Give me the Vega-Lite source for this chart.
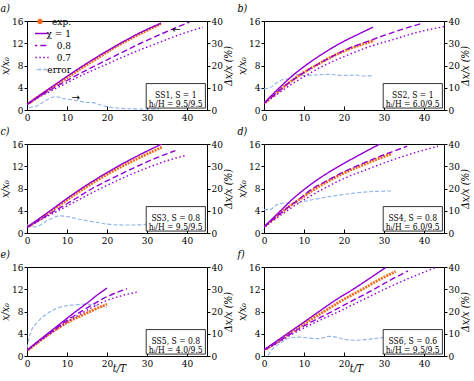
{
"$schema":"https://vega.github.io/schema/vega-lite/v6.json",
"padding":{"left":0,"top":3,"right":0,"bottom":0},
"config":{
 "font":"'DejaVu Serif Condensed', 'Liberation Serif', 'DejaVu Serif', serif",
 "view":{"stroke":"black","strokeWidth":1},
 "axis":{"grid":false,"domain":false,"labelFont":"'DejaVu Serif Condensed', 'Liberation Serif', 'DejaVu Serif', serif","labelFontSize":10,"labelColor":"black","tickColor":"black","titleFont":"'DejaVu Serif Condensed', 'Liberation Serif', 'DejaVu Serif', serif","titleFontSize":10.5,"titleFontWeight":"normal","titleColor":"black","titleFontStyle":"italic","labelPadding":1,"tickSize":3,"titlePadding":1,"labelFlush":false,"labelOverlap":false},
 "axisX":{"tickSize":-4,"labelPadding":6},
 "title":{"font":"'DejaVu Serif Condensed', 'Liberation Serif', 'DejaVu Serif', serif","fontSize":10.5,"fontWeight":"normal","fontStyle":"italic","anchor":"start","frame":"bounds","offset":2,"color":"black"}
},
"data":{"values":[
{"p":"a","s":"exp.","t":0.5,"v":1.2},{"p":"a","s":"exp.","t":3,"v":2.5},{"p":"a","s":"exp.","t":6,"v":3.9},{"p":"a","s":"exp.","t":10,"v":5.8},{"p":"a","s":"exp.","t":14,"v":7.7},{"p":"a","s":"exp.","t":18,"v":9.5},{"p":"a","s":"exp.","t":23,"v":11.7},{"p":"a","s":"exp.","t":28,"v":13.6},{"p":"a","s":"exp.","t":33.5,"v":15.5},
{"p":"a","s":"χ = 1","t":0,"v":1.0},{"p":"a","s":"χ = 1","t":2,"v":2.05},{"p":"a","s":"χ = 1","t":6,"v":4.05},{"p":"a","s":"χ = 1","t":10,"v":6.05},{"p":"a","s":"χ = 1","t":14,"v":7.95},{"p":"a","s":"χ = 1","t":18,"v":9.75},{"p":"a","s":"χ = 1","t":23.4,"v":12.0},{"p":"a","s":"χ = 1","t":28,"v":13.8},{"p":"a","s":"χ = 1","t":33.5,"v":15.6},
{"p":"a","s":"0.8","t":0,"v":1.0},{"p":"a","s":"0.8","t":3,"v":2.4},{"p":"a","s":"0.8","t":6.8,"v":4.0},{"p":"a","s":"0.8","t":12,"v":6.1},{"p":"a","s":"0.8","t":17.2,"v":8.0},{"p":"a","s":"0.8","t":22.5,"v":9.9},{"p":"a","s":"0.8","t":28.4,"v":12.0},{"p":"a","s":"0.8","t":34,"v":13.8},{"p":"a","s":"0.8","t":40.6,"v":15.8},
{"p":"a","s":"0.7","t":0,"v":1.0},{"p":"a","s":"0.7","t":3,"v":2.3},{"p":"a","s":"0.7","t":7.6,"v":4.0},{"p":"a","s":"0.7","t":13,"v":6.0},{"p":"a","s":"0.7","t":19.2,"v":8.0},{"p":"a","s":"0.7","t":25.5,"v":10.0},{"p":"a","s":"0.7","t":32.5,"v":12.0},{"p":"a","s":"0.7","t":38,"v":13.5},{"p":"a","s":"0.7","t":44,"v":14.9},
{"p":"a","s":"error","t":0.5,"v":1.2},{"p":"a","s":"error","t":2,"v":1.5},{"p":"a","s":"error","t":4,"v":3.5},{"p":"a","s":"error","t":6,"v":5.5},{"p":"a","s":"error","t":7.2,"v":6.0},{"p":"a","s":"error","t":9,"v":5.2},{"p":"a","s":"error","t":11,"v":4.6},{"p":"a","s":"error","t":13,"v":4.0},{"p":"a","s":"error","t":15,"v":3.4},{"p":"a","s":"error","t":16.5,"v":3.3},{"p":"a","s":"error","t":18,"v":2.5},{"p":"a","s":"error","t":20,"v":1.5},{"p":"a","s":"error","t":23,"v":0.8},{"p":"a","s":"error","t":27,"v":0.5},{"p":"a","s":"error","t":33,"v":0.4},
{"p":"b","s":"exp.","t":0.3,"v":1.3},{"p":"b","s":"exp.","t":2,"v":2.4},{"p":"b","s":"exp.","t":5,"v":4.2},{"p":"b","s":"exp.","t":9,"v":6.3},{"p":"b","s":"exp.","t":12.9,"v":8.0},{"p":"b","s":"exp.","t":17,"v":9.6},{"p":"b","s":"exp.","t":21,"v":10.9},{"p":"b","s":"exp.","t":25.4,"v":12.0},{"p":"b","s":"exp.","t":27.5,"v":12.5},
{"p":"b","s":"χ = 1","t":0,"v":1.2},{"p":"b","s":"χ = 1","t":2,"v":2.7},{"p":"b","s":"χ = 1","t":4,"v":4.1},{"p":"b","s":"χ = 1","t":7,"v":6.1},{"p":"b","s":"χ = 1","t":10,"v":7.8},{"p":"b","s":"χ = 1","t":14,"v":9.8},{"p":"b","s":"χ = 1","t":19.6,"v":12.2},{"p":"b","s":"χ = 1","t":23.5,"v":13.6},{"p":"b","s":"χ = 1","t":27.3,"v":14.9},
{"p":"b","s":"0.8","t":0,"v":1.2},{"p":"b","s":"0.8","t":2,"v":2.4},{"p":"b","s":"0.8","t":5,"v":4.2},{"p":"b","s":"0.8","t":9,"v":6.3},{"p":"b","s":"0.8","t":12.9,"v":8.0},{"p":"b","s":"0.8","t":17,"v":9.6},{"p":"b","s":"0.8","t":21,"v":11.0},{"p":"b","s":"0.8","t":25.4,"v":12.2},{"p":"b","s":"0.8","t":30,"v":13.4},{"p":"b","s":"0.8","t":35,"v":14.6},{"p":"b","s":"0.8","t":39.6,"v":15.6},
{"p":"b","s":"0.7","t":0,"v":1.2},{"p":"b","s":"0.7","t":3,"v":2.7},{"p":"b","s":"0.7","t":6,"v":4.2},{"p":"b","s":"0.7","t":10,"v":6.0},{"p":"b","s":"0.7","t":15,"v":8.0},{"p":"b","s":"0.7","t":20,"v":9.6},{"p":"b","s":"0.7","t":26,"v":11.3},{"p":"b","s":"0.7","t":32,"v":12.6},{"p":"b","s":"0.7","t":38,"v":13.9},{"p":"b","s":"0.7","t":45,"v":15.0},
{"p":"b","s":"error","t":0,"v":9.5},{"p":"b","s":"error","t":1,"v":9.8},{"p":"b","s":"error","t":2,"v":10.5},{"p":"b","s":"error","t":3,"v":12},{"p":"b","s":"error","t":4,"v":13},{"p":"b","s":"error","t":5,"v":14},{"p":"b","s":"error","t":6,"v":13.8},{"p":"b","s":"error","t":7,"v":15},{"p":"b","s":"error","t":8,"v":16},{"p":"b","s":"error","t":10,"v":15.5},{"p":"b","s":"error","t":13,"v":15.8},{"p":"b","s":"error","t":16,"v":16},{"p":"b","s":"error","t":20,"v":15.5},{"p":"b","s":"error","t":23,"v":15.7},{"p":"b","s":"error","t":25,"v":15.3},{"p":"b","s":"error","t":27.3,"v":15.5},
{"p":"c","s":"exp.","t":0.5,"v":1.2},{"p":"c","s":"exp.","t":3,"v":2.4},{"p":"c","s":"exp.","t":6,"v":3.9},{"p":"c","s":"exp.","t":9.5,"v":5.7},{"p":"c","s":"exp.","t":13.4,"v":7.6},{"p":"c","s":"exp.","t":18,"v":9.7},{"p":"c","s":"exp.","t":23,"v":11.7},{"p":"c","s":"exp.","t":28,"v":13.5},{"p":"c","s":"exp.","t":33.7,"v":15.4},
{"p":"c","s":"χ = 1","t":0,"v":1.0},{"p":"c","s":"χ = 1","t":3,"v":2.55},{"p":"c","s":"χ = 1","t":6,"v":4.1},{"p":"c","s":"χ = 1","t":9.5,"v":5.95},{"p":"c","s":"χ = 1","t":13.4,"v":7.9},{"p":"c","s":"χ = 1","t":18,"v":10.0},{"p":"c","s":"χ = 1","t":23,"v":12.1},{"p":"c","s":"χ = 1","t":28,"v":14.0},{"p":"c","s":"χ = 1","t":33.7,"v":16.0},
{"p":"c","s":"0.8","t":0,"v":1.0},{"p":"c","s":"0.8","t":3,"v":2.3},{"p":"c","s":"0.8","t":7,"v":4.0},{"p":"c","s":"0.8","t":11.5,"v":5.9},{"p":"c","s":"0.8","t":16.3,"v":8.0},{"p":"c","s":"0.8","t":21.5,"v":9.9},{"p":"c","s":"0.8","t":27,"v":11.8},{"p":"c","s":"0.8","t":32,"v":13.4},{"p":"c","s":"0.8","t":37.1,"v":14.8},
{"p":"c","s":"0.7","t":0,"v":1.0},{"p":"c","s":"0.7","t":3,"v":2.2},{"p":"c","s":"0.7","t":7.5,"v":3.9},{"p":"c","s":"0.7","t":13,"v":6.0},{"p":"c","s":"0.7","t":18.4,"v":8.0},{"p":"c","s":"0.7","t":24,"v":9.9},{"p":"c","s":"0.7","t":30,"v":11.7},{"p":"c","s":"0.7","t":35,"v":13.0},{"p":"c","s":"0.7","t":40,"v":14.0},
{"p":"c","s":"error","t":0,"v":3.7},{"p":"c","s":"error","t":1,"v":3.0},{"p":"c","s":"error","t":2,"v":2.8},{"p":"c","s":"error","t":3,"v":3.3},{"p":"c","s":"error","t":5,"v":5.5},{"p":"c","s":"error","t":7,"v":7.2},{"p":"c","s":"error","t":8.5,"v":7.7},{"p":"c","s":"error","t":10,"v":7.4},{"p":"c","s":"error","t":12,"v":6.6},{"p":"c","s":"error","t":15,"v":5.5},{"p":"c","s":"error","t":18,"v":4.6},{"p":"c","s":"error","t":20,"v":4.0},{"p":"c","s":"error","t":22,"v":3.7},{"p":"c","s":"error","t":26,"v":3.6},{"p":"c","s":"error","t":30,"v":3.7},{"p":"c","s":"error","t":34,"v":3.7},
{"p":"d","s":"exp.","t":0.3,"v":1.2},{"p":"d","s":"exp.","t":3,"v":2.9},{"p":"d","s":"exp.","t":6,"v":4.6},{"p":"d","s":"exp.","t":9,"v":6.1},{"p":"d","s":"exp.","t":12,"v":7.6},{"p":"d","s":"exp.","t":16,"v":9.3},{"p":"d","s":"exp.","t":20,"v":10.8},{"p":"d","s":"exp.","t":24,"v":12.0},{"p":"d","s":"exp.","t":28,"v":13.2},{"p":"d","s":"exp.","t":32,"v":14.25},
{"p":"d","s":"χ = 1","t":0,"v":1.1},{"p":"d","s":"χ = 1","t":2,"v":2.5},{"p":"d","s":"χ = 1","t":4,"v":3.9},{"p":"d","s":"χ = 1","t":7,"v":6.0},{"p":"d","s":"χ = 1","t":10,"v":7.8},{"p":"d","s":"χ = 1","t":14,"v":9.9},{"p":"d","s":"χ = 1","t":18.75,"v":12.0},{"p":"d","s":"χ = 1","t":24,"v":14.1},{"p":"d","s":"χ = 1","t":29,"v":16.0},
{"p":"d","s":"0.8","t":0,"v":1.1},{"p":"d","s":"0.8","t":3,"v":2.9},{"p":"d","s":"0.8","t":6,"v":4.6},{"p":"d","s":"0.8","t":9,"v":6.2},{"p":"d","s":"0.8","t":12,"v":7.9},{"p":"d","s":"0.8","t":16,"v":9.5},{"p":"d","s":"0.8","t":20,"v":11.0},{"p":"d","s":"0.8","t":24,"v":12.3},{"p":"d","s":"0.8","t":28,"v":13.5},{"p":"d","s":"0.8","t":32,"v":14.6},{"p":"d","s":"0.8","t":35.8,"v":15.6},
{"p":"d","s":"0.7","t":0,"v":1.1},{"p":"d","s":"0.7","t":3,"v":2.6},{"p":"d","s":"0.7","t":7,"v":4.6},{"p":"d","s":"0.7","t":11,"v":6.4},{"p":"d","s":"0.7","t":15,"v":8.0},{"p":"d","s":"0.7","t":20,"v":9.8},{"p":"d","s":"0.7","t":26,"v":11.5},{"p":"d","s":"0.7","t":32,"v":13.1},{"p":"d","s":"0.7","t":38,"v":14.5},{"p":"d","s":"0.7","t":43.5,"v":15.6},
{"p":"d","s":"error","t":0,"v":10.5},{"p":"d","s":"error","t":1.5,"v":10.5},{"p":"d","s":"error","t":3,"v":12.5},{"p":"d","s":"error","t":5,"v":13.5},{"p":"d","s":"error","t":7,"v":13.3},{"p":"d","s":"error","t":10,"v":14.2},{"p":"d","s":"error","t":14,"v":15.6},{"p":"d","s":"error","t":18,"v":16.8},{"p":"d","s":"error","t":22,"v":17.8},{"p":"d","s":"error","t":26,"v":18.5},{"p":"d","s":"error","t":32,"v":18.9},
{"p":"e","s":"exp.","t":0.3,"v":1.1},{"p":"e","s":"exp.","t":3,"v":2.6},{"p":"e","s":"exp.","t":6,"v":4.2},{"p":"e","s":"exp.","t":10,"v":6.0},{"p":"e","s":"exp.","t":14,"v":7.4},{"p":"e","s":"exp.","t":17,"v":8.4},{"p":"e","s":"exp.","t":20,"v":9.3},
{"p":"e","s":"χ = 1","t":0,"v":1.0},{"p":"e","s":"χ = 1","t":3,"v":2.8},{"p":"e","s":"χ = 1","t":6,"v":4.5},{"p":"e","s":"χ = 1","t":9,"v":6.2},{"p":"e","s":"χ = 1","t":12,"v":7.9},{"p":"e","s":"χ = 1","t":15,"v":9.5},{"p":"e","s":"χ = 1","t":18,"v":11.2},{"p":"e","s":"χ = 1","t":20,"v":12.2},
{"p":"e","s":"0.8","t":0,"v":1.0},{"p":"e","s":"0.8","t":3,"v":2.7},{"p":"e","s":"0.8","t":6,"v":4.3},{"p":"e","s":"0.8","t":10,"v":6.4},{"p":"e","s":"0.8","t":14,"v":8.2},{"p":"e","s":"0.8","t":19,"v":10.3},{"p":"e","s":"0.8","t":22,"v":11.3},{"p":"e","s":"0.8","t":25,"v":12.1},
{"p":"e","s":"0.7","t":0,"v":1.0},{"p":"e","s":"0.7","t":3,"v":2.6},{"p":"e","s":"0.7","t":6,"v":4.1},{"p":"e","s":"0.7","t":10,"v":6.1},{"p":"e","s":"0.7","t":14,"v":7.8},{"p":"e","s":"0.7","t":19,"v":9.7},{"p":"e","s":"0.7","t":23,"v":10.7},{"p":"e","s":"0.7","t":27.5,"v":11.5},
{"p":"e","s":"error","t":0,"v":3.5},{"p":"e","s":"error","t":0.5,"v":8},{"p":"e","s":"error","t":1,"v":11},{"p":"e","s":"error","t":2.5,"v":15},{"p":"e","s":"error","t":5,"v":19},{"p":"e","s":"error","t":8,"v":21.8},{"p":"e","s":"error","t":12,"v":23},{"p":"e","s":"error","t":15,"v":23.3},{"p":"e","s":"error","t":18,"v":22.5},{"p":"e","s":"error","t":20,"v":21.8},
{"p":"f","s":"exp.","t":0.5,"v":1.2},{"p":"f","s":"exp.","t":3,"v":2.4},{"p":"f","s":"exp.","t":6,"v":3.9},{"p":"f","s":"exp.","t":10,"v":5.8},{"p":"f","s":"exp.","t":15,"v":8.0},{"p":"f","s":"exp.","t":20,"v":10.2},{"p":"f","s":"exp.","t":24.6,"v":12.0},{"p":"f","s":"exp.","t":29,"v":13.8},{"p":"f","s":"exp.","t":32.9,"v":15.2},
{"p":"f","s":"χ = 1","t":0,"v":1.1},{"p":"f","s":"χ = 1","t":3,"v":2.6},{"p":"f","s":"χ = 1","t":5.8,"v":4.0},{"p":"f","s":"χ = 1","t":10,"v":6.1},{"p":"f","s":"χ = 1","t":13.75,"v":8.0},{"p":"f","s":"χ = 1","t":18,"v":10.1},{"p":"f","s":"χ = 1","t":22.5,"v":12.1},{"p":"f","s":"χ = 1","t":26.5,"v":14.0},{"p":"f","s":"χ = 1","t":30.4,"v":15.9},
{"p":"f","s":"0.8","t":0,"v":1.1},{"p":"f","s":"0.8","t":3,"v":2.3},{"p":"f","s":"0.8","t":6,"v":3.7},{"p":"f","s":"0.8","t":11,"v":5.8},{"p":"f","s":"0.8","t":17,"v":8.0},{"p":"f","s":"0.8","t":22,"v":9.9},{"p":"f","s":"0.8","t":27,"v":11.8},{"p":"f","s":"0.8","t":32,"v":13.8},{"p":"f","s":"0.8","t":36,"v":15.3},
{"p":"f","s":"0.7","t":0,"v":1.1},{"p":"f","s":"0.7","t":3,"v":2.2},{"p":"f","s":"0.7","t":7,"v":3.9},{"p":"f","s":"0.7","t":13,"v":6.1},{"p":"f","s":"0.7","t":18.75,"v":8.0},{"p":"f","s":"0.7","t":25,"v":10.2},{"p":"f","s":"0.7","t":31,"v":12.3},{"p":"f","s":"0.7","t":37,"v":14.2},{"p":"f","s":"0.7","t":42.9,"v":15.9},
{"p":"f","s":"error","t":1,"v":0.3},{"p":"f","s":"error","t":2,"v":2.9},{"p":"f","s":"error","t":3.5,"v":5},{"p":"f","s":"error","t":5.4,"v":7.4},{"p":"f","s":"error","t":7,"v":8.3},{"p":"f","s":"error","t":8.75,"v":8.5},{"p":"f","s":"error","t":11,"v":8.1},{"p":"f","s":"error","t":13.75,"v":7.8},{"p":"f","s":"error","t":16.25,"v":8.8},{"p":"f","s":"error","t":18,"v":8.5},{"p":"f","s":"error","t":20.4,"v":7.4},{"p":"f","s":"error","t":23,"v":7.1},{"p":"f","s":"error","t":26,"v":7.5},{"p":"f","s":"error","t":30.4,"v":8.4},{"p":"f","s":"error","t":33,"v":8.8},
{"p":"a","note":"SS1, S = 1\nhᵢ/H = 9.5/9.5"},
{"p":"b","note":"SS2, S = 1\nhᵢ/H = 6.0/9.5"},
{"p":"c","note":"SS3, S = 0.8\nhᵢ/H = 9.5/9.5"},
{"p":"d","note":"SS4, S = 0.8\nhᵢ/H = 6.0/9.5"},
{"p":"e","note":"SS5, S = 0.8\nhᵢ/H = 4.0/9.5"},
{"p":"f","note":"SS6, S = 0.6\nhᵢ/H = 9.5/9.5"}
]},
"spacing":3,
"resolve":{"legend":{"color":"independent","strokeDash":"independent"}},
"vconcat":[
{"hconcat":[
{"width":180,"height":89,"title":{"text":"a)"},
 "layer":[
  {"transform":[{"filter":"datum.p==='a' && datum.s==='error'"}],
   "mark":{"type":"line","interpolate":"monotone","strokeWidth":1.1,"clip":true},
   "encoding":{
    "x":{"field":"t","type":"quantitative","scale":{"domain":[0,45],"nice":false},"axis":{"values":[0,10,20,30,40],"title":null}},
    "y":{"field":"v","type":"quantitative","scale":{"domain":[0,40],"nice":false},"axis":{"orient":"right","values":[0,10,20,30,40],"title":"Δx/x (%)","titleAngle":270,"titleBaseline":"top","titlePadding":1}},
    "color":{"field":"s","type":"nominal","scale":{"domain":["exp.","χ = 1","0.8","0.7","error"],"range":["#F26B1D","#9400D3","#9400D3","#9400D3","#8FB3EC"]},
      "legend":{"orient":"none","legendX":8,"legendY":-4,"title":null,"labelFontSize":10,"labelColor":"black","labelAlign":"right","labelOffset":26,"symbolSize":300,"symbolStrokeWidth":1.5,"symbolType":"stroke","clipHeight":9,"rowPadding":1,"padding":0,
        "encode":{"symbols":{"update":{"shape":{"signal":"datum.label === 'exp.' ? 'circle' : 'stroke'"},"size":{"signal":"datum.label === 'exp.' ? 28 : 300"},"fill":{"signal":"datum.label === 'exp.' ? '#F26B1D' : 'transparent'"},"strokeWidth":{"signal":"datum.label === 'exp.' ? 0 : 1.5"}}}}}},
    "strokeDash":{"field":"s","type":"nominal","scale":{"domain":["exp.","χ = 1","0.8","0.7","error"],"range":[[2,1],[1,0],[6,3],[1.5,2.5],[4,2]]},
      "legend":{"orient":"none","legendX":8,"legendY":-4,"title":null,"labelFontSize":10,"labelColor":"black","labelAlign":"right","labelOffset":26,"symbolSize":300,"symbolStrokeWidth":1.5,"symbolType":"stroke","clipHeight":9,"rowPadding":1,"padding":0}}
   }},
  {"layer":[
    {"transform":[{"filter":"datum.p==='a' && datum.s==='exp.'"}],
     "mark":{"type":"line","interpolate":"monotone","strokeWidth":2.8,"clip":true},
     "encoding":{"x":{"field":"t","type":"quantitative"},"y":{"field":"v","type":"quantitative","scale":{"domain":[0,16],"nice":false},"axis":{"orient":"left","values":[0,4,8,12,16],"title":"x/x₀"}},
      "color":{"field":"s","type":"nominal"},"strokeDash":{"field":"s","type":"nominal"}}},
    {"transform":[{"filter":"datum.p==='a' && datum.s && datum.s!=='exp.' && datum.s!=='error'"}],
     "mark":{"type":"line","interpolate":"monotone","strokeWidth":1.4,"clip":true},
     "encoding":{"x":{"field":"t","type":"quantitative"},"y":{"field":"v","type":"quantitative","axis":{"orient":"left","values":[0,4,8,12,16],"title":"x/x₀"}},
      "color":{"field":"s","type":"nominal"},"strokeDash":{"field":"s","type":"nominal"}}}
  ]},
  {"transform":[{"filter":"datum.p==='a' && datum.note"}],
   "layer":[
    {"mark":{"type":"rect","fill":"white","stroke":"black","strokeWidth":0.8},
     "encoding":{"x":{"datum":29.8},"x2":{"datum":44.6},"y":{"datum":0.35,"scale":{"domain":[0,16],"nice":false},"axis":null},"y2":{"datum":4.75}}},
    {"mark":{"type":"text","lineBreak":"\n","fontSize":8.5,"lineHeight":9.5,"align":"center","baseline":"middle"},
     "encoding":{"x":{"datum":37.2},"y":{"datum":2.7,"axis":null},"text":{"field":"note"}}},
    {"mark":{"type":"text","text":"←","fontSize":10,"font":"DejaVu Sans"},
     "encoding":{"x":{"datum":37.3},"y":{"datum":14.3,"axis":null}}},
    {"mark":{"type":"text","text":"→","fontSize":10,"font":"DejaVu Sans"},
     "encoding":{"x":{"datum":12.2},"y":{"datum":2.2,"axis":null}}}
   ]}
 ],
 "resolve":{"scale":{"y":"independent"}}},
{"width":180,"height":89,"title":{"text":"b)"},
 "layer":[
  {"transform":[{"filter":"datum.p==='b' && datum.s==='error'"}],
   "mark":{"type":"line","interpolate":"monotone","strokeWidth":1.1,"clip":true},
   "encoding":{
    "x":{"field":"t","type":"quantitative","scale":{"domain":[0,45],"nice":false},"axis":{"values":[0,10,20,30,40],"title":null}},
    "y":{"field":"v","type":"quantitative","scale":{"domain":[0,40],"nice":false},"axis":{"orient":"right","values":[0,10,20,30,40],"title":"Δx/x (%)","titleAngle":270,"titleBaseline":"top","titlePadding":1}},
    "color":{"field":"s","type":"nominal","scale":{"domain":["exp.","χ = 1","0.8","0.7","error"],"range":["#F26B1D","#9400D3","#9400D3","#9400D3","#8FB3EC"]},"legend":null},
    "strokeDash":{"field":"s","type":"nominal","scale":{"domain":["exp.","χ = 1","0.8","0.7","error"],"range":[[2,1],[1,0],[6,3],[1.5,2.5],[4,2]]},"legend":null}
   }},
  {"layer":[
    {"transform":[{"filter":"datum.p==='b' && datum.s==='exp.'"}],
     "mark":{"type":"line","interpolate":"monotone","strokeWidth":2.8,"clip":true},
     "encoding":{"x":{"field":"t","type":"quantitative"},"y":{"field":"v","type":"quantitative","scale":{"domain":[0,16],"nice":false},"axis":{"orient":"left","values":[0,4,8,12,16],"title":"x/x₀"}},
      "color":{"field":"s","type":"nominal","legend":null},"strokeDash":{"field":"s","type":"nominal","legend":null}}},
    {"transform":[{"filter":"datum.p==='b' && datum.s && datum.s!=='exp.' && datum.s!=='error'"}],
     "mark":{"type":"line","interpolate":"monotone","strokeWidth":1.4,"clip":true},
     "encoding":{"x":{"field":"t","type":"quantitative"},"y":{"field":"v","type":"quantitative","axis":{"orient":"left","values":[0,4,8,12,16],"title":"x/x₀"}},
      "color":{"field":"s","type":"nominal","legend":null},"strokeDash":{"field":"s","type":"nominal","legend":null}}}
  ]},
  {"transform":[{"filter":"datum.p==='b' && datum.note"}],
   "layer":[
    {"mark":{"type":"rect","fill":"white","stroke":"black","strokeWidth":0.8},
     "encoding":{"x":{"datum":29.8},"x2":{"datum":44.6},"y":{"datum":0.35,"scale":{"domain":[0,16],"nice":false},"axis":null},"y2":{"datum":4.75}}},
    {"mark":{"type":"text","lineBreak":"\n","fontSize":8.5,"lineHeight":9.5,"align":"center","baseline":"middle"},
     "encoding":{"x":{"datum":37.2},"y":{"datum":2.7,"axis":null},"text":{"field":"note"}}}
   ]}
 ],
 "resolve":{"scale":{"y":"independent"}}}
],"spacing":2,"resolve":{"legend":{"color":"independent","strokeDash":"independent"}}},
{"hconcat":[
{"width":180,"height":89,"title":{"text":"c)"},
 "layer":[
  {"transform":[{"filter":"datum.p==='c' && datum.s==='error'"}],
   "mark":{"type":"line","interpolate":"monotone","strokeWidth":1.1,"clip":true},
   "encoding":{
    "x":{"field":"t","type":"quantitative","scale":{"domain":[0,45],"nice":false},"axis":{"values":[0,10,20,30,40],"title":null}},
    "y":{"field":"v","type":"quantitative","scale":{"domain":[0,40],"nice":false},"axis":{"orient":"right","values":[0,10,20,30,40],"title":"Δx/x (%)","titleAngle":270,"titleBaseline":"top","titlePadding":1}},
    "color":{"field":"s","type":"nominal","scale":{"domain":["exp.","χ = 1","0.8","0.7","error"],"range":["#F26B1D","#9400D3","#9400D3","#9400D3","#8FB3EC"]},"legend":null},
    "strokeDash":{"field":"s","type":"nominal","scale":{"domain":["exp.","χ = 1","0.8","0.7","error"],"range":[[2,1],[1,0],[6,3],[1.5,2.5],[4,2]]},"legend":null}
   }},
  {"layer":[
    {"transform":[{"filter":"datum.p==='c' && datum.s==='exp.'"}],
     "mark":{"type":"line","interpolate":"monotone","strokeWidth":2.8,"clip":true},
     "encoding":{"x":{"field":"t","type":"quantitative"},"y":{"field":"v","type":"quantitative","scale":{"domain":[0,16],"nice":false},"axis":{"orient":"left","values":[0,4,8,12,16],"title":"x/x₀"}},
      "color":{"field":"s","type":"nominal","legend":null},"strokeDash":{"field":"s","type":"nominal","legend":null}}},
    {"transform":[{"filter":"datum.p==='c' && datum.s && datum.s!=='exp.' && datum.s!=='error'"}],
     "mark":{"type":"line","interpolate":"monotone","strokeWidth":1.4,"clip":true},
     "encoding":{"x":{"field":"t","type":"quantitative"},"y":{"field":"v","type":"quantitative","axis":{"orient":"left","values":[0,4,8,12,16],"title":"x/x₀"}},
      "color":{"field":"s","type":"nominal","legend":null},"strokeDash":{"field":"s","type":"nominal","legend":null}}}
  ]},
  {"transform":[{"filter":"datum.p==='c' && datum.note"}],
   "layer":[
    {"mark":{"type":"rect","fill":"white","stroke":"black","strokeWidth":0.8},
     "encoding":{"x":{"datum":29.8},"x2":{"datum":44.6},"y":{"datum":0.35,"scale":{"domain":[0,16],"nice":false},"axis":null},"y2":{"datum":4.75}}},
    {"mark":{"type":"text","lineBreak":"\n","fontSize":8.5,"lineHeight":9.5,"align":"center","baseline":"middle"},
     "encoding":{"x":{"datum":37.2},"y":{"datum":2.7,"axis":null},"text":{"field":"note"}}}
   ]}
 ],
 "resolve":{"scale":{"y":"independent"}}},
{"width":180,"height":89,"title":{"text":"d)"},
 "layer":[
  {"transform":[{"filter":"datum.p==='d' && datum.s==='error'"}],
   "mark":{"type":"line","interpolate":"monotone","strokeWidth":1.1,"clip":true},
   "encoding":{
    "x":{"field":"t","type":"quantitative","scale":{"domain":[0,45],"nice":false},"axis":{"values":[0,10,20,30,40],"title":null}},
    "y":{"field":"v","type":"quantitative","scale":{"domain":[0,40],"nice":false},"axis":{"orient":"right","values":[0,10,20,30,40],"title":"Δx/x (%)","titleAngle":270,"titleBaseline":"top","titlePadding":1}},
    "color":{"field":"s","type":"nominal","scale":{"domain":["exp.","χ = 1","0.8","0.7","error"],"range":["#F26B1D","#9400D3","#9400D3","#9400D3","#8FB3EC"]},"legend":null},
    "strokeDash":{"field":"s","type":"nominal","scale":{"domain":["exp.","χ = 1","0.8","0.7","error"],"range":[[2,1],[1,0],[6,3],[1.5,2.5],[4,2]]},"legend":null}
   }},
  {"layer":[
    {"transform":[{"filter":"datum.p==='d' && datum.s==='exp.'"}],
     "mark":{"type":"line","interpolate":"monotone","strokeWidth":2.8,"clip":true},
     "encoding":{"x":{"field":"t","type":"quantitative"},"y":{"field":"v","type":"quantitative","scale":{"domain":[0,16],"nice":false},"axis":{"orient":"left","values":[0,4,8,12,16],"title":"x/x₀"}},
      "color":{"field":"s","type":"nominal","legend":null},"strokeDash":{"field":"s","type":"nominal","legend":null}}},
    {"transform":[{"filter":"datum.p==='d' && datum.s && datum.s!=='exp.' && datum.s!=='error'"}],
     "mark":{"type":"line","interpolate":"monotone","strokeWidth":1.4,"clip":true},
     "encoding":{"x":{"field":"t","type":"quantitative"},"y":{"field":"v","type":"quantitative","axis":{"orient":"left","values":[0,4,8,12,16],"title":"x/x₀"}},
      "color":{"field":"s","type":"nominal","legend":null},"strokeDash":{"field":"s","type":"nominal","legend":null}}}
  ]},
  {"transform":[{"filter":"datum.p==='d' && datum.note"}],
   "layer":[
    {"mark":{"type":"rect","fill":"white","stroke":"black","strokeWidth":0.8},
     "encoding":{"x":{"datum":29.8},"x2":{"datum":44.6},"y":{"datum":0.35,"scale":{"domain":[0,16],"nice":false},"axis":null},"y2":{"datum":4.75}}},
    {"mark":{"type":"text","lineBreak":"\n","fontSize":8.5,"lineHeight":9.5,"align":"center","baseline":"middle"},
     "encoding":{"x":{"datum":37.2},"y":{"datum":2.7,"axis":null},"text":{"field":"note"}}}
   ]}
 ],
 "resolve":{"scale":{"y":"independent"}}}
],"spacing":2,"resolve":{"legend":{"color":"independent","strokeDash":"independent"}}},
{"hconcat":[
{"width":180,"height":89,"title":{"text":"e)"},
 "layer":[
  {"transform":[{"filter":"datum.p==='e' && datum.s==='error'"}],
   "mark":{"type":"line","interpolate":"monotone","strokeWidth":1.1,"clip":true},
   "encoding":{
    "x":{"field":"t","type":"quantitative","scale":{"domain":[0,45],"nice":false},"axis":{"values":[0,10,20,30,40],"title":"t/T","titleX":92,"titleY":15,"titleBaseline":"alphabetic"}},
    "y":{"field":"v","type":"quantitative","scale":{"domain":[0,40],"nice":false},"axis":{"orient":"right","values":[0,10,20,30,40],"title":"Δx/x (%)","titleAngle":270,"titleBaseline":"top","titlePadding":1}},
    "color":{"field":"s","type":"nominal","scale":{"domain":["exp.","χ = 1","0.8","0.7","error"],"range":["#F26B1D","#9400D3","#9400D3","#9400D3","#8FB3EC"]},"legend":null},
    "strokeDash":{"field":"s","type":"nominal","scale":{"domain":["exp.","χ = 1","0.8","0.7","error"],"range":[[2,1],[1,0],[6,3],[1.5,2.5],[4,2]]},"legend":null}
   }},
  {"layer":[
    {"transform":[{"filter":"datum.p==='e' && datum.s==='exp.'"}],
     "mark":{"type":"line","interpolate":"monotone","strokeWidth":2.8,"clip":true},
     "encoding":{"x":{"field":"t","type":"quantitative"},"y":{"field":"v","type":"quantitative","scale":{"domain":[0,16],"nice":false},"axis":{"orient":"left","values":[0,4,8,12,16],"title":"x/x₀"}},
      "color":{"field":"s","type":"nominal","legend":null},"strokeDash":{"field":"s","type":"nominal","legend":null}}},
    {"transform":[{"filter":"datum.p==='e' && datum.s && datum.s!=='exp.' && datum.s!=='error'"}],
     "mark":{"type":"line","interpolate":"monotone","strokeWidth":1.4,"clip":true},
     "encoding":{"x":{"field":"t","type":"quantitative"},"y":{"field":"v","type":"quantitative","axis":{"orient":"left","values":[0,4,8,12,16],"title":"x/x₀"}},
      "color":{"field":"s","type":"nominal","legend":null},"strokeDash":{"field":"s","type":"nominal","legend":null}}}
  ]},
  {"transform":[{"filter":"datum.p==='e' && datum.note"}],
   "layer":[
    {"mark":{"type":"rect","fill":"white","stroke":"black","strokeWidth":0.8},
     "encoding":{"x":{"datum":29.8},"x2":{"datum":44.6},"y":{"datum":0.35,"scale":{"domain":[0,16],"nice":false},"axis":null},"y2":{"datum":4.75}}},
    {"mark":{"type":"text","lineBreak":"\n","fontSize":8.5,"lineHeight":9.5,"align":"center","baseline":"middle"},
     "encoding":{"x":{"datum":37.2},"y":{"datum":2.7,"axis":null},"text":{"field":"note"}}}
   ]}
 ],
 "resolve":{"scale":{"y":"independent"}}},
{"width":180,"height":89,"title":{"text":"f)"},
 "layer":[
  {"transform":[{"filter":"datum.p==='f' && datum.s==='error'"}],
   "mark":{"type":"line","interpolate":"monotone","strokeWidth":1.1,"clip":true},
   "encoding":{
    "x":{"field":"t","type":"quantitative","scale":{"domain":[0,45],"nice":false},"axis":{"values":[0,10,20,30,40],"title":"t/T","titleX":92,"titleY":15,"titleBaseline":"alphabetic"}},
    "y":{"field":"v","type":"quantitative","scale":{"domain":[0,40],"nice":false},"axis":{"orient":"right","values":[0,10,20,30,40],"title":"Δx/x (%)","titleAngle":270,"titleBaseline":"top","titlePadding":1}},
    "color":{"field":"s","type":"nominal","scale":{"domain":["exp.","χ = 1","0.8","0.7","error"],"range":["#F26B1D","#9400D3","#9400D3","#9400D3","#8FB3EC"]},"legend":null},
    "strokeDash":{"field":"s","type":"nominal","scale":{"domain":["exp.","χ = 1","0.8","0.7","error"],"range":[[2,1],[1,0],[6,3],[1.5,2.5],[4,2]]},"legend":null}
   }},
  {"layer":[
    {"transform":[{"filter":"datum.p==='f' && datum.s==='exp.'"}],
     "mark":{"type":"line","interpolate":"monotone","strokeWidth":2.8,"clip":true},
     "encoding":{"x":{"field":"t","type":"quantitative"},"y":{"field":"v","type":"quantitative","scale":{"domain":[0,16],"nice":false},"axis":{"orient":"left","values":[0,4,8,12,16],"title":"x/x₀"}},
      "color":{"field":"s","type":"nominal","legend":null},"strokeDash":{"field":"s","type":"nominal","legend":null}}},
    {"transform":[{"filter":"datum.p==='f' && datum.s && datum.s!=='exp.' && datum.s!=='error'"}],
     "mark":{"type":"line","interpolate":"monotone","strokeWidth":1.4,"clip":true},
     "encoding":{"x":{"field":"t","type":"quantitative"},"y":{"field":"v","type":"quantitative","axis":{"orient":"left","values":[0,4,8,12,16],"title":"x/x₀"}},
      "color":{"field":"s","type":"nominal","legend":null},"strokeDash":{"field":"s","type":"nominal","legend":null}}}
  ]},
  {"transform":[{"filter":"datum.p==='f' && datum.note"}],
   "layer":[
    {"mark":{"type":"rect","fill":"white","stroke":"black","strokeWidth":0.8},
     "encoding":{"x":{"datum":29.8},"x2":{"datum":44.6},"y":{"datum":0.35,"scale":{"domain":[0,16],"nice":false},"axis":null},"y2":{"datum":4.75}}},
    {"mark":{"type":"text","lineBreak":"\n","fontSize":8.5,"lineHeight":9.5,"align":"center","baseline":"middle"},
     "encoding":{"x":{"datum":37.2},"y":{"datum":2.7,"axis":null},"text":{"field":"note"}}}
   ]}
 ],
 "resolve":{"scale":{"y":"independent"}}}
],"spacing":2,"resolve":{"legend":{"color":"independent","strokeDash":"independent"}}}
]
}
